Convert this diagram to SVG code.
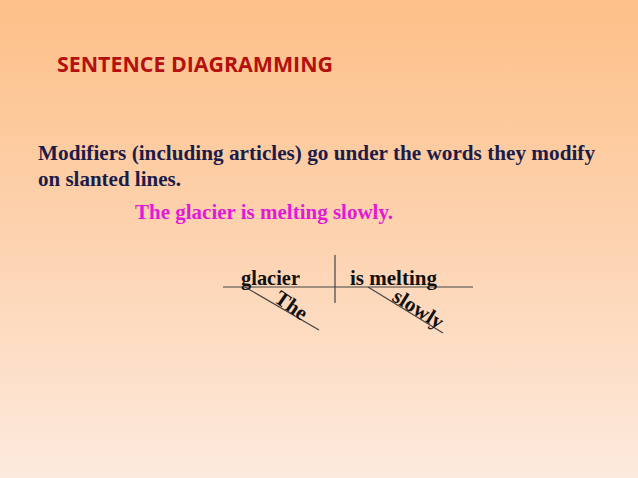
<svg xmlns="http://www.w3.org/2000/svg" width="638" height="478" viewBox="0 0 638 478">
<defs>
<linearGradient id="bg" x1="0" y1="0" x2="0" y2="1">
<stop offset="0" stop-color="#fdc088"/>
<stop offset="0.5" stop-color="#fdd3b0"/>
<stop offset="1" stop-color="#fdeade"/>
</linearGradient>
<style>
.title{font-family:"Open Sans","Noto Sans",sans-serif;font-weight:bold;font-size:22px;fill:#b3100f}
.body{font-family:"Liberation Serif",serif;font-weight:bold;font-size:21px;fill:#1c1c4a}
.ex{font-family:"Liberation Serif",serif;font-weight:bold;font-size:21px;fill:#e21ad6}
.word{font-family:"Liberation Serif",serif;font-weight:bold;font-size:21px;fill:#111}
.ln{stroke:#444;stroke-width:1.2;fill:none}
</style>
</defs>
<rect width="638" height="478" fill="url(#bg)"/>
<text class="title" x="57" y="72" textLength="276" lengthAdjust="spacingAndGlyphs">SENTENCE DIAGRAMMING</text>
<text class="body" x="38" y="160" textLength="557" lengthAdjust="spacingAndGlyphs">Modifiers (including articles) go under the words they modify</text>
<text class="body" x="38" y="186">on slanted lines.</text>
<text class="ex" x="135" y="219">The glacier is melting slowly.</text>
<g id="connectors">
<line class="ln" x1="223" y1="287" x2="473" y2="287"/>
<line class="ln" x1="335" y1="255" x2="335" y2="303"/>
<line class="ln" x1="245" y1="287" x2="319" y2="330"/>
<line class="ln" x1="368" y1="287" x2="443" y2="333"/>
</g>
<g id="glacier"><text class="word" x="241" y="285" textLength="59" lengthAdjust="spacingAndGlyphs">glacier</text></g>
<g id="is-melting"><text class="word" x="350" y="285" textLength="87" lengthAdjust="spacingAndGlyphs">is melting</text></g>
<g id="the"><text class="word" transform="translate(273 301) rotate(35)">The</text></g>
<g id="slowly"><text class="word" transform="translate(391 300) rotate(32)">slowly</text></g>
</svg>
